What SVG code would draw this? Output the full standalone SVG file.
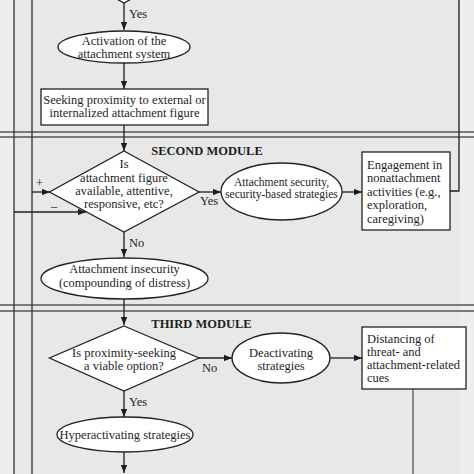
<svg xmlns="http://www.w3.org/2000/svg" width="474" height="474" viewBox="0 0 474 474">
<style>
.t{font-family:"Liberation Serif","Times New Roman",serif;font-size:12.5px;fill:#1e1e1e}
.c{text-anchor:middle}
.b{font-weight:bold}
.s{font-size:11.5px}
.n{fill:#fff;stroke:#222;stroke-width:1.3}
.e{fill:none;stroke:#1e1e1e;stroke-width:1.3}
.g{fill:none;stroke:#555;stroke-width:1.6}
.v{fill:none;stroke:#333;stroke-width:1.3}
</style>
<defs>
<marker id="a" viewBox="0 0 10 8" refX="10" refY="4" markerWidth="8" markerHeight="6.4" markerUnits="userSpaceOnUse" orient="auto"><path d="M0,0 L10,4 L0,8 z" fill="#1e1e1e"/></marker>
</defs>
<rect x="0" y="0" width="474" height="474" fill="#e8e8e8"/>
<rect x="0" y="0" width="14" height="474" fill="#eeeeee"/>
<rect x="460" y="0" width="14" height="474" fill="#eeeeee"/>
<g id="frame">
<path class="g" d="M0,132H474M0,137H474M0,305H474M0,311H474"/>
<path class="v" d="M14,0V474M32,0V474"/>
</g>
<g id="connectors">
<path class="e" d="M124,3V30" marker-end="url(#a)"/>
<path class="e" d="M124,63V89" marker-end="url(#a)"/>
<path class="e" d="M124,125V151" marker-end="url(#a)"/>
<path class="e" d="M32,192H50" marker-end="url(#a)"/>
<path class="e" d="M14,212H86" marker-end="url(#a)"/>
<path class="e" d="M199,192H221" marker-end="url(#a)"/>
<path class="e" d="M342,192H362" marker-end="url(#a)"/>
<path class="e" d="M450,191H459V0"/>
<path class="e" d="M124,232V257" marker-end="url(#a)"/>
<path class="e" d="M124,299V325" marker-end="url(#a)"/>
<path class="e" d="M199,358H232" marker-end="url(#a)"/>
<path class="e" d="M330,358H362" marker-end="url(#a)"/>
<path class="e" d="M413,389V474" style="stroke:#555"/>
<path class="e" d="M124,391V417" marker-end="url(#a)"/>
<path class="e" d="M124,452V473" marker-end="url(#a)"/>
<text class="t" x="129" y="18">Yes</text>
<text class="t c" x="39.5" y="187">+</text>
<text class="t c" x="54" y="210">–</text>
<text class="t" x="200" y="205">Yes</text>
<text class="t" x="129" y="247">No</text>
<text class="t" x="202" y="372">No</text>
<text class="t" x="129" y="406">Yes</text>
</g>
<g id="prev-decision">
<polygon class="n" points="49,-38 124,3 199,-38"/>
</g>
<g id="activation">
<ellipse class="n" cx="124" cy="47" rx="66" ry="16"/>
<text class="t c" x="124" y="45">Activation of the</text>
<text class="t c" x="124" y="57.5">attachment system</text>
</g>
<g id="seeking">
<rect class="n" x="41" y="89" width="167" height="36"/>
<text class="t c" x="124.5" y="104">Seeking proximity to external or</text>
<text class="t c" x="124.5" y="117">internalized attachment figure</text>
</g>
<text class="t b c" x="207" y="155">SECOND MODULE</text>
<g id="available">
<polygon class="n" points="124,151 199,192 124,232 49.5,192"/>
<text class="t c" x="124" y="168">Is</text>
<text class="t c" x="124" y="181.5">attachment figure</text>
<text class="t c" x="124" y="195">available, attentive,</text>
<text class="t c" x="124" y="208">responsive, etc?</text>
</g>
<g id="security">
<ellipse class="n" cx="281.5" cy="191.5" rx="60.5" ry="28.5"/>
<text class="t s c" x="281.5" y="186">Attachment security,</text>
<text class="t s c" x="281.5" y="197.5">security-based strategies</text>
</g>
<g id="engagement">
<rect class="n" x="362" y="152" width="88" height="78"/>
<text class="t" x="367" y="168.5">Engagement in</text>
<text class="t" x="367" y="182">nonattachment</text>
<text class="t" x="367" y="195.5">activities (e.g.,</text>
<text class="t" x="367" y="209">exploration,</text>
<text class="t" x="367" y="222.5">caregiving)</text>
</g>
<g id="insecurity">
<ellipse class="n" cx="124.5" cy="278.5" rx="83.5" ry="20.5"/>
<text class="t c" x="124.5" y="273">Attachment insecurity</text>
<text class="t c" x="124.5" y="286.5">(compounding of distress)</text>
</g>
<text class="t b c" x="201.5" y="328">THIRD MODULE</text>
<g id="viable">
<polygon class="n" points="124,326 199,358 124,391 49.5,358"/>
<text class="t c" x="124" y="357">Is proximity-seeking</text>
<text class="t c" x="124" y="370">a viable option?</text>
</g>
<g id="deactivating">
<ellipse class="n" cx="281" cy="358" rx="49" ry="25"/>
<text class="t c" x="281" y="357">Deactivating</text>
<text class="t c" x="281" y="369.5">strategies</text>
</g>
<g id="distancing">
<rect class="n" x="362" y="327" width="104" height="62"/>
<text class="t" x="367" y="342.5">Distancing of</text>
<text class="t" x="367" y="355.8">threat- and</text>
<text class="t" x="367" y="369.1">attachment-related</text>
<text class="t" x="367" y="382.4">cues</text>
</g>
<g id="hyperactivating">
<ellipse class="n" cx="125" cy="434.5" rx="68" ry="17.5"/>
<text class="t c" x="125" y="438.5">Hyperactivating strategies</text>
</g>
</svg>
